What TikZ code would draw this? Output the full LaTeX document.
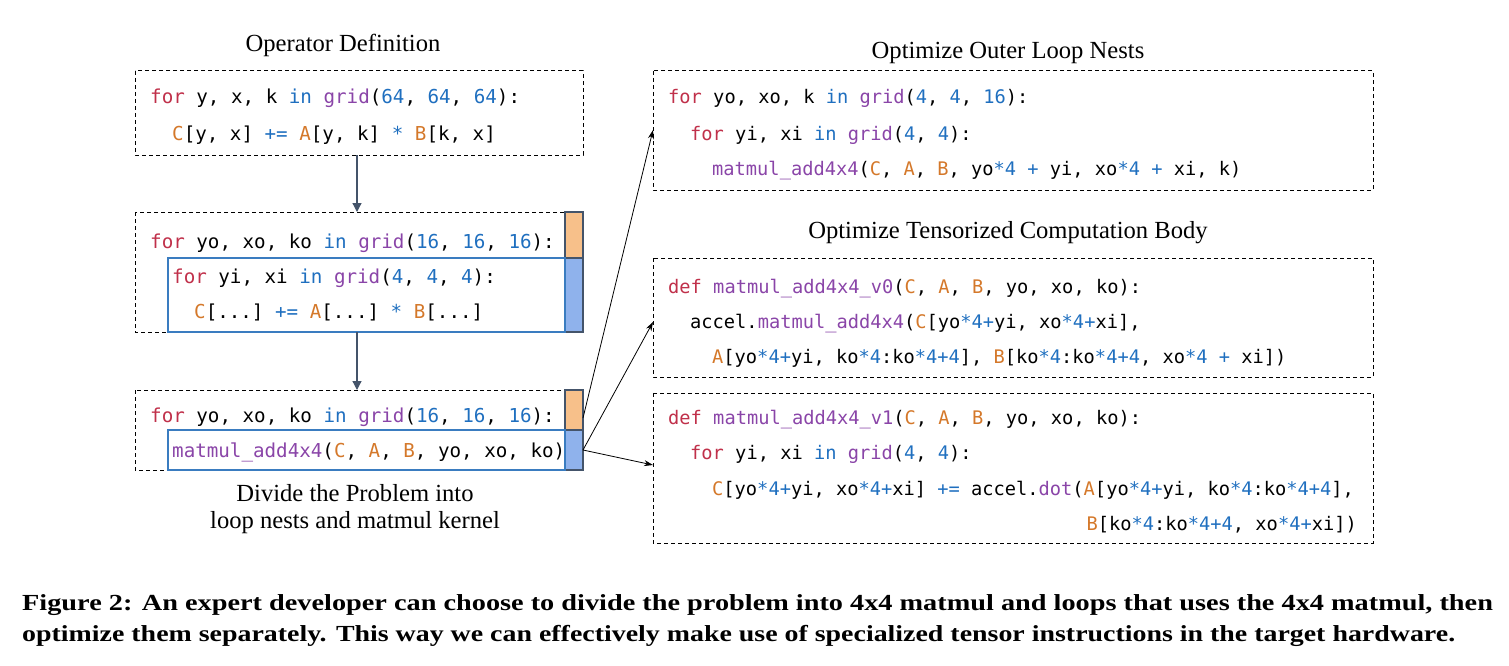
\documentclass[tikz,border=0pt]{standalone}
\usepackage{fontspec}
\usetikzlibrary{arrows.meta}
\setmainfont{Liberation Serif}
\setmonofont{DejaVu Sans Mono}
\definecolor{kred}{HTML}{C0304A}
\definecolor{kblue}{HTML}{1F6FBF}
\definecolor{kpur}{HTML}{8A45A8}
\definecolor{korg}{HTML}{D4782A}
\definecolor{arr}{HTML}{44546A}
\definecolor{boxblue}{HTML}{3A7CC0}
\definecolor{sqorg}{HTML}{F7C08A}
\definecolor{sqblue}{HTML}{8FB2EC}
\newcommand{\kw}[1]{\textcolor{kred}{#1}}
\newcommand{\bl}[1]{\textcolor{kblue}{#1}}
\newcommand{\pu}[1]{\textcolor{kpur}{#1}}
\newcommand{\og}[1]{\textcolor{korg}{#1}}
\begin{document}
\begin{tikzpicture}[x=1pt,y=-1pt,
  dbox/.style={draw,line width=1pt,dash pattern=on 4pt off 3pt},
  codeL/.style={anchor=base west,inner sep=0pt,font=\fontsize{19.2}{24}\ttfamily},
  codeR/.style={anchor=base west,inner sep=0pt,font=\fontsize{18.7}{22}\ttfamily},
  ttl/.style={inner sep=0pt,font=\fontsize{24.6}{28}\selectfont},
  captxt/.style={anchor=base west,inner sep=0pt,font=\fontsize{23}{26}\bfseries},
  flow/.style={draw=arr,line width=1.3pt,-{Triangle[length=9pt,width=9pt]}},
  thin/.style={draw,line width=0.8pt,-{Stealth[length=9pt,width=6pt]}}]
\useasboundingbox (0,0) rectangle (1509,666);
% left column
\node[ttl] (t1) at (343,45) {Operator Definition};
\draw[dbox] (135,71) rectangle (583,155);
\coordinate (b1b) at (357,155);
\node[codeL] (l11) at (150,104) {\kw{for} y, x, k \bl{in} \pu{grid}(\bl{64}, \bl{64}, \bl{64}):};
\node[codeL] (l12) at (172,140) {\og{C}[y, x] \bl{+=} \og{A}[y, k] \bl{*} \og{B}[k, x]};
% box2
\draw[dbox] (135,212) rectangle (583,332);
\fill[sqorg] (565,212) rectangle (583,258);
\fill[sqblue] (565,258) rectangle (583,332);
\draw[arr,line width=1.5pt] (565,212) rectangle (583,332) (565,258)--(583,258);
\draw[boxblue,line width=1.5pt] (168,258) rectangle (565,332);
\coordinate (b2t) at (357,212); \coordinate (b2b) at (357,332);
\node[codeL] (l21) at (150,248) {\kw{for} yo, xo, ko \bl{in} \pu{grid}(\bl{16}, \bl{16}, \bl{16}):};
\node[codeL] (l22) at (172,283) {\kw{for} yi, xi \bl{in} \pu{grid}(\bl{4}, \bl{4}, \bl{4}):};
\node[codeL] (l23) at (194,318) {\og{C}[...] \bl{+=} \og{A}[...] \bl{*} \og{B}[...]};
% box3
\draw[dbox] (135,390) rectangle (583,470);
\fill[sqorg] (565,390) rectangle (583,430);
\fill[sqblue] (565,430) rectangle (583,470);
\draw[arr,line width=1.5pt] (565,390) rectangle (583,470) (565,430)--(583,430);
\draw[boxblue,line width=1.5pt] (168,430) rectangle (565,470);
\coordinate (b3t) at (357,390);
\coordinate (or3) at (583,418); \coordinate (bl3) at (583,450);
\node[codeL] (l31) at (150,422) {\kw{for} yo, xo, ko \bl{in} \pu{grid}(\bl{16}, \bl{16}, \bl{16}):};
\node[codeL] (l32) at (172,457) {\pu{matmul\_add4x4}(\og{C}, \og{A}, \og{B}, yo, xo, ko)};
\node[ttl] (c1) at (355,493) {Divide the Problem into};
\node[ttl] (c2) at (355,523) {loop nests and matmul kernel};
\draw[flow] (b1b) -- (b2t);
\draw[flow] (b2b) -- (b3t);
% right
\node[ttl] (t2) at (1008,53) {Optimize Outer Loop Nests};
\draw[dbox] (653,71) rectangle (1373,190);
\coordinate (r1) at (653,130);
\node[codeR] at (668,104) {\kw{for} yo, xo, k \bl{in} \pu{grid}(\bl{4}, \bl{4}, \bl{16}):};
\node[codeR] at (690,140) {\kw{for} yi, xi \bl{in} \pu{grid}(\bl{4}, \bl{4}):};
\node[codeR] at (712,175) {\pu{matmul\_add4x4}(\og{C}, \og{A}, \og{B}, yo\bl{*4} \bl{+} yi, xo\bl{*4} \bl{+} xi, k)};
\node[ttl] (t3) at (1008,233) {Optimize Tensorized Computation Body};
\draw[dbox] (653,258) rectangle (1373,377);
\coordinate (r2) at (653,322);
\node[codeR] at (668,293) {\kw{def} \pu{matmul\_add4x4\_v0}(\og{C}, \og{A}, \og{B}, yo, xo, ko):};
\node[codeR] at (690,328) {accel.\pu{matmul\_add4x4}(\og{C}[yo\bl{*4+}yi, xo\bl{*4+}xi],};
\node[codeR] at (712,363) {\og{A}[yo\bl{*4+}yi, ko\bl{*4}:ko\bl{*4+4}], \og{B}[ko\bl{*4}:ko\bl{*4+4}, xo\bl{*4} \bl{+} xi])};
\draw[dbox] (653,393) rectangle (1373,543);
\coordinate (r3) at (653,465);
\node[codeR] at (668,424) {\kw{def} \pu{matmul\_add4x4\_v1}(\og{C}, \og{A}, \og{B}, yo, xo, ko):};
\node[codeR] at (690,459) {\kw{for} yi, xi \bl{in} \pu{grid}(\bl{4}, \bl{4}):};
\node[codeR] at (712,495) {\og{C}[yo\bl{*4+}yi, xo\bl{*4+}xi] \bl{+=} accel.\pu{dot}(\og{A}[yo\bl{*4+}yi, ko\bl{*4}:ko\bl{*4+4}],};
\node[codeR,anchor=base east] at (1357,530) {\og{B}[ko\bl{*4}:ko\bl{*4+4}, xo\bl{*4+}xi])};
\draw[thin] (or3) -- (r1);
\draw[thin] (bl3) -- (r2);
\draw[thin] (bl3) -- (r3);
% caption
\node[captxt] (cap1) at (22,610) {\scalebox{1.23}[1]{Figure 2: An expert developer can choose to divide the problem into 4x4 matmul and loops that uses the 4x4 matmul, then}};
\node[captxt] (cap2) at (22,641) {\scalebox{1.213}[1]{optimize them separately. This way we can effectively make use of specialized tensor instructions in the target hardware.}};
\end{tikzpicture}
\end{document}
